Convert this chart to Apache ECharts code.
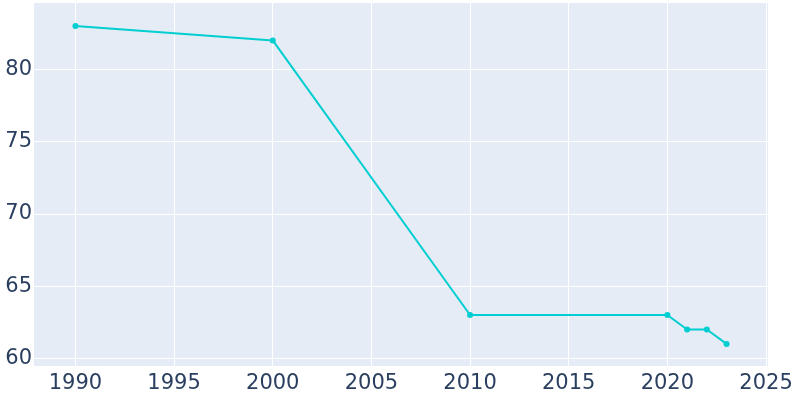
<!DOCTYPE html>
<html>
<head>
<meta charset="utf-8">
<script src="https://cdn.jsdelivr.net/npm/echarts@6/dist/echarts.min.js"></script>
<style>html,body{margin:0;padding:0;background:#fff;}#c{width:800px;height:400px;}</style>
</head>
<body>
<div id="c"></div>
<script>
const years = [1990, 2000, 2010, 2020, 2021, 2022, 2023];
const values = [83, 82, 63, 63, 62, 62, 61];
const xTicks = [1990, 1995, 2000, 2005, 2010, 2015, 2020, 2025];
const yTicks = [60, 65, 70, 75, 80];

const chart = echarts.init(document.getElementById('c'), null, {renderer: 'canvas'});
const textColor = '#2a3f5f';
chart.setOption({
  animation: false,
  grid: {left: 34, right: 32, top: 3, bottom: 34, show: true, backgroundColor: '#E5ECF6', borderWidth: 0},
  xAxis: {
    type: 'value', min: 1987.9, max: 2025.1,
    axisLine: {show: false},
    axisTick: {show: false, customValues: xTicks},
    axisLabel: {customValues: xTicks, color: textColor, fontSize: 21, fontFamily: 'DejaVu Sans', margin: 7, formatter: v => String(v)},
    splitLine: {show: true, lineStyle: {color: '#ffffff', width: 1}}
  },
  yAxis: {
    type: 'value', min: 59.47, max: 84.59,
    axisLine: {show: false},
    axisTick: {show: false, customValues: yTicks},
    axisLabel: {customValues: yTicks, color: textColor, fontSize: 21, fontFamily: 'DejaVu Sans', margin: 2, formatter: v => String(v)},
    splitLine: {show: true, lineStyle: {color: '#ffffff', width: 1}}
  },
  series: [{
    type: 'line',
    data: years.map((y, i) => [y, values[i]]),
    symbol: 'circle', symbolSize: 6,
    lineStyle: {color: '#00CED1', width: 2},
    itemStyle: {color: '#00CED1'}
  }]
});
</script>
</body>
</html>
